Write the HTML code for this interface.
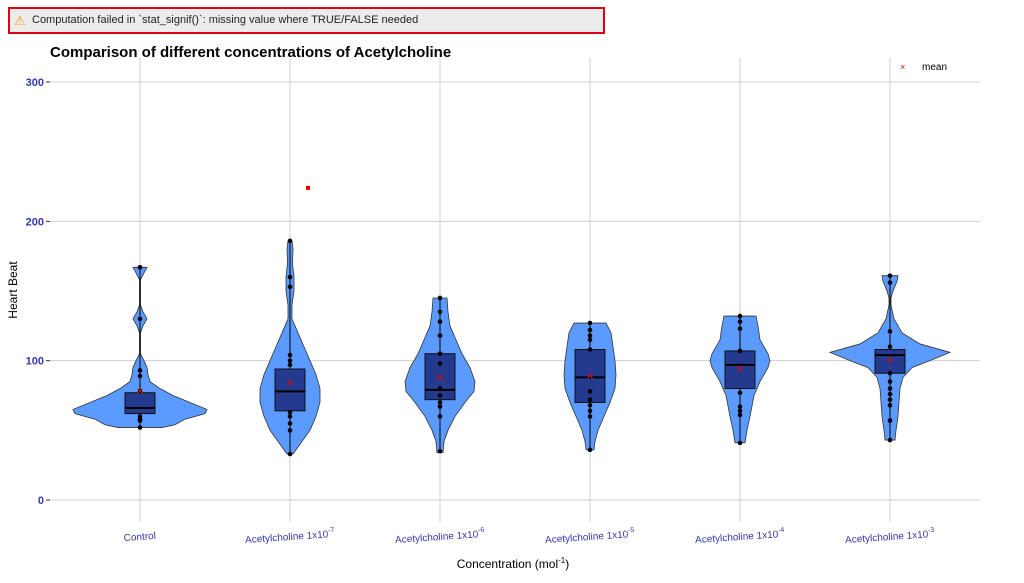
<!DOCTYPE html>
<html><head><meta charset="utf-8"><style>
body{margin:0;background:#fff;font-family:"Liberation Sans",sans-serif}
#w{position:absolute;left:8px;top:7px;width:597px;height:27px;border:2px solid #e00012;background:#ececec;box-sizing:border-box;font-size:11px;line-height:23px;padding-left:22px;color:#222}
</style></head><body>
<div id="w"><span style="position:absolute;left:4px;top:0;color:#e8a21a;font-size:13px">&#9888;</span>Computation failed in `stat_signif()`: missing value where TRUE/FALSE needed</div>
<svg id="c" width="1024" height="583" style="position:absolute;left:0;top:0">
<text x="50" y="57" font-size="15" font-weight="bold" fill="#000">Comparison of different concentrations of Acetylcholine</text>
<text x="513" y="568" font-size="12" text-anchor="middle">Concentration (mol<tspan font-size="8" dy="-5">-1</tspan><tspan dy="5">)</tspan></text>
<text transform="translate(17,290) rotate(-90)" font-size="12" text-anchor="middle">Heart  Beat</text>
<text x="900" y="70" font-size="9" fill="#e00">×</text>
<text x="922" y="70" font-size="10">mean</text>
</svg>
<script>
const categories=["Control","Acetylcholine 1x10","Acetylcholine 1x10","Acetylcholine 1x10","Acetylcholine 1x10","Acetylcholine 1x10"];
const exponents=["","-7","-6","-5","-4","-3"];
const yTicks=[0,100,200,300];
const violinVals=[
[167,163,158,140,135,130,125,120,105,100,95,90,85,80,75,70,65,62,58,54,52],
[186,180,170,160,150,140,130,120,110,100,90,80,70,60,50,40,33],
[145,135,125,115,105,95,85,78,70,60,50,42,34],
[127,120,110,100,90,80,70,60,50,42,36],
[132,125,115,105,100,95,85,75,60,50,41],
[161,157,150,145,140,130,120,112,106,100,95,88,80,70,60,50,43]];
const violinDens=[
[7,4,0.5,0.5,3,7,3,0.5,0.5,4,7,8,10,20,33,50,67,65,45,35,22],
[2,3,2.5,4,4,2,2,8,14,20,26,30,30,26,20,10,3],
[7,8,10,16,22,30,35,34,25,15,8,4,3],
[16,21,23,25,26,25,20,14,8,5,4],
[16,18,20,28,30,28,20,14,10,7,5],
[8,7,3,1,1,4,12,30,60,40,22,13,10,9,8,6,5]];
const points=[
[167,130,93,89,78,60,58,57,52],
[186,160,153,104,100,97,63,60,55,50,33],
[145,135,128,118,105,98,80,75,70,67,60,35],
[127,122,118,115,108,78,72,68,64,60,36],
[132,128,123,107,77,67,64,61,41],
[161,156,121,110,91,85,80,76,72,68,57,43]];
const q1=[62,64,72,70,80,91], med=[66,78,79,88,97,104], q3=[77,94,105,108,107,108], means=[78,84,88,89,94,100];
const outlier=[1,224];
const svg=document.getElementById('c'),NS="http://www.w3.org/2000/svg";
const y=v=>500-v*(418/300), x=i=>140+i*150;
function mk(t,a,p){const e=document.createElementNS(NS,t);for(const k in a)e.setAttribute(k,a[k]);(p||svg).insertBefore?(p||svg).appendChild(e):0;return e;}
const g=mk('g',{});svg.insertBefore(g,svg.firstChild);
yTicks.forEach(t=>{const l=mk('line',{x1:50,x2:980,y1:y(t),y2:y(t),stroke:'#d0d0d0'},g);
mk('line',{x1:46,x2:50,y1:y(t),y2:y(t),stroke:'#333'},g);
const tx=mk('text',{x:44,y:y(t)+4,'text-anchor':'end','font-size':11,'font-weight':'bold',fill:'#3535b0'});tx.textContent=t;});
categories.forEach((c,i)=>{const l=mk('line',{x1:x(i),x2:x(i),y1:58,y2:522,stroke:'#d0d0d0'},g);
const tx=mk('text',{transform:`translate(${x(i)},${540}) rotate(-4)`,'text-anchor':'middle','font-size':10,fill:'#3535b0'});

tx.textContent=c;if(exponents[i]){const s=mk('tspan',{'font-size':7,dy:-5},tx);s.textContent=exponents[i];}});
categories.forEach((c,i)=>{const cx=x(i),vv=violinVals[i],dd=violinDens[i];
let pts=vv.map((v,k)=>[cx+dd[k],y(v)]);pts=pts.concat(vv.map((v,k)=>[cx-dd[k],y(v)]).reverse());
const p=mk('polygon',{points:pts.map(q=>q.join(',')).join(' '),fill:'#5b9bff',stroke:'#333','stroke-width':0.8});

const vmax=Math.max(...points[i]),vmin=Math.min(...points[i]);
mk('line',{x1:cx,x2:cx,y1:y(vmax),y2:y(vmin),stroke:'#000'});
const b=mk('rect',{x:cx-15,y:y(q3[i]),width:30,height:y(q1[i])-y(q3[i]),fill:'#233a8f',stroke:'#111','stroke-width':1});

mk('line',{x1:cx-15,x2:cx+15,y1:y(med[i]),y2:y(med[i]),stroke:'#000','stroke-width':2});
points[i].forEach(v=>{const d=mk('circle',{cx:cx,cy:y(v),r:2.3,fill:'#000'});});
const m=mk('text',{x:cx,y:y(means[i])+4,'text-anchor':'middle','font-size':13,fill:'#e00'});m.textContent='×';});
const o=mk('rect',{x:x(outlier[0])+16,y:y(outlier[1])-2,width:4,height:4,fill:'#e00'});
</script>
</body></html>
